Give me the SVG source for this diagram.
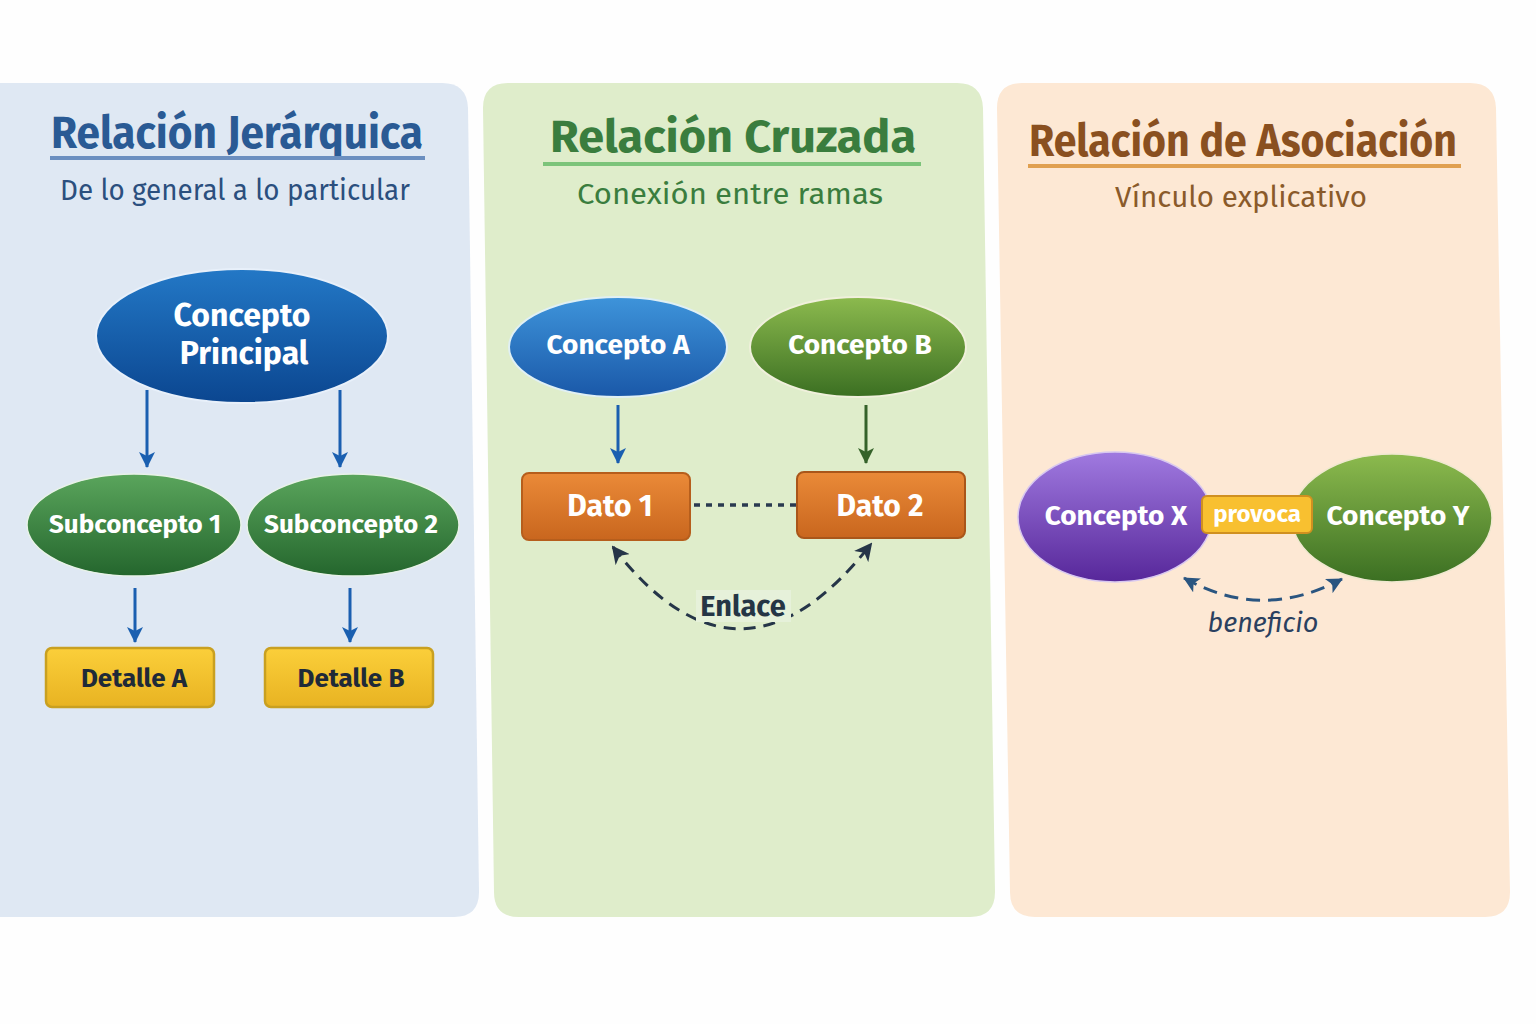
<svg xmlns="http://www.w3.org/2000/svg" width="1536" height="1024" viewBox="0 0 1536 1024">
<defs>
<linearGradient id="gBlue" x1="0" y1="0" x2="0" y2="1"><stop offset="0" stop-color="#2378c6"/><stop offset="1" stop-color="#0b4690"/></linearGradient>
<linearGradient id="gBlue2" x1="0" y1="0" x2="0" y2="1"><stop offset="0" stop-color="#3e94da"/><stop offset="1" stop-color="#1a58a8"/></linearGradient>
<linearGradient id="gGreen" x1="0" y1="0" x2="0" y2="1"><stop offset="0" stop-color="#5aa55c"/><stop offset="1" stop-color="#24662d"/></linearGradient>
<linearGradient id="gOlive" x1="0" y1="0" x2="0" y2="1"><stop offset="0" stop-color="#8cba4e"/><stop offset="1" stop-color="#3b6f22"/></linearGradient>
<linearGradient id="gPurple" x1="0" y1="0" x2="0" y2="1"><stop offset="0" stop-color="#a07ae0"/><stop offset="1" stop-color="#57279a"/></linearGradient>
<linearGradient id="gYellow" x1="0" y1="0" x2="0" y2="1"><stop offset="0" stop-color="#fbcf3a"/><stop offset="1" stop-color="#e8b322"/></linearGradient>
<linearGradient id="gOrange" x1="0" y1="0" x2="0" y2="1"><stop offset="0" stop-color="#ea8a38"/><stop offset="1" stop-color="#c9661e"/></linearGradient>
<marker id="aBlue" viewBox="0 0 16 16" refX="15" refY="8" markerWidth="16" markerHeight="16" orient="auto-start-reverse" markerUnits="userSpaceOnUse"><path d="M0 0 L16 8 L0 16 L4 8 Z" fill="#1a5fb0"/></marker>
<marker id="aGreen" viewBox="0 0 16 16" refX="15" refY="8" markerWidth="16" markerHeight="16" orient="auto-start-reverse" markerUnits="userSpaceOnUse"><path d="M0 0 L16 8 L0 16 L4 8 Z" fill="#35622a"/></marker>
<marker id="aDark" viewBox="0 0 18 18" refX="16" refY="9" markerWidth="18" markerHeight="18" orient="auto-start-reverse" markerUnits="userSpaceOnUse"><path d="M0 0 L18 9 L0 18 L5 9 Z" fill="#253548"/></marker>
<marker id="aNavy" viewBox="0 0 16 16" refX="15" refY="8" markerWidth="16" markerHeight="16" orient="auto-start-reverse" markerUnits="userSpaceOnUse"><path d="M0 0 L16 8 L0 16 L4 8 Z" fill="#2a5580"/></marker>
</defs>
<style>
text{font-family:"Fira Sans","Lato","Noto Sans",sans-serif;text-anchor:middle}
.title{font-size:46px;font-weight:700}
.sub{font-size:30px}
.nw{fill:#fff;font-weight:700}
.nd{fill:#1f2a38;font-weight:700}
.arr{fill:none;stroke-width:3}
</style>
<rect width="1536" height="1024" fill="#fefefe"/>
<g id="panels">
<path d="M-20 83 L442 83 Q467 83 468 108 L479 892 Q479 917 454 917 L-20 917 Z" fill="#dfe8f3"/>
<path d="M508 83 L957 83 Q982 83 983 108 L995 892 Q995 917 970 917 L519 917 Q494 917 494 892 L483 108 Q483 83 508 83 Z" fill="#dfedcb"/>
<path d="M1022 83 L1470 83 Q1495 83 1496 108 L1510 892 Q1510 917 1485 917 L1035 917 Q1010 917 1010 892 L997 108 Q997 83 1022 83 Z" fill="#fde8d4"/>
</g>
<g id="headers">
<text class="title" x="237" y="148" fill="#2a5a94" textLength="372" lengthAdjust="spacingAndGlyphs">Relación Jerárquica</text>
<rect x="50" y="156" width="375" height="4" fill="#6b8fc0"/>
<text class="sub" x="235" y="200" fill="#2b4f7e" textLength="350" lengthAdjust="spacingAndGlyphs">De lo general a lo particular</text>
<text class="title" x="733" y="152" fill="#3a7d3e" textLength="366" lengthAdjust="spacingAndGlyphs">Relación Cruzada</text>
<rect x="543" y="162" width="378" height="4" fill="#7cc47a"/>
<text class="sub" x="730" y="204" fill="#3a7d3e" textLength="306" lengthAdjust="spacingAndGlyphs">Conexión entre ramas</text>
<text class="title" x="1243" y="156" fill="#8a5020" textLength="428" lengthAdjust="spacingAndGlyphs">Relación de Asociación</text>
<rect x="1028" y="164" width="433" height="4" fill="#e0a050"/>
<text class="sub" x="1241" y="207" fill="#8a5a2a" textLength="252" lengthAdjust="spacingAndGlyphs">Vínculo explicativo</text>
</g>
<g id="connectors">
<line class="arr" x1="147" y1="390" x2="147" y2="467" stroke="#1a5fb0" marker-end="url(#aBlue)"/>
<line class="arr" x1="340" y1="390" x2="340" y2="467" stroke="#1a5fb0" marker-end="url(#aBlue)"/>
<line class="arr" x1="135" y1="588" x2="135" y2="642" stroke="#1a5fb0" marker-end="url(#aBlue)"/>
<line class="arr" x1="350" y1="588" x2="350" y2="642" stroke="#1a5fb0" marker-end="url(#aBlue)"/>
<line class="arr" x1="618" y1="405" x2="618" y2="463" stroke="#1a5fb0" marker-end="url(#aBlue)"/>
<line class="arr" x1="866" y1="405" x2="866" y2="463" stroke="#35622a" marker-end="url(#aGreen)"/>
<line x1="694" y1="505" x2="796" y2="505" stroke="#2a3a50" stroke-width="3.5" stroke-dasharray="6 6"/>
<path class="arr" d="M613 547 Q740 712 871 544" stroke="#253548" stroke-dasharray="12 8" marker-start="url(#aDark)" marker-end="url(#aDark)"/>
<path class="arr" d="M1184 578 Q1262 622 1342 579" stroke="#2a5580" stroke-dasharray="14 8" marker-start="url(#aNavy)" marker-end="url(#aNavy)"/>
</g>
<g id="n-principal">
<ellipse cx="242" cy="336" rx="146" ry="67" fill="url(#gBlue)" stroke="#e8f0fa" stroke-width="2"/>
<text class="nw" x="242" y="326" font-size="32">Concepto</text>
<text class="nw" x="244" y="364" font-size="32">Principal</text>
</g>
<g id="n-sub1">
<ellipse cx="134" cy="525" rx="107" ry="51" fill="url(#gGreen)" stroke="#e8f2e8" stroke-width="1.5"/>
<text class="nw" x="135" y="533" font-size="26" textLength="172" lengthAdjust="spacingAndGlyphs">Subconcepto 1</text>
</g>
<g id="n-sub2">
<ellipse cx="353" cy="525" rx="106" ry="51" fill="url(#gGreen)" stroke="#e8f2e8" stroke-width="1.5"/>
<text class="nw" x="351" y="533" font-size="26" textLength="174" lengthAdjust="spacingAndGlyphs">Subconcepto 2</text>
</g>
<g id="n-detA">
<rect x="46" y="648" width="168" height="59" rx="6" fill="url(#gYellow)" stroke="#c9a020" stroke-width="2.5"/>
<text class="nd" x="134" y="687" font-size="26">Detalle A</text>
</g>
<g id="n-detB">
<rect x="265" y="648" width="168" height="59" rx="6" fill="url(#gYellow)" stroke="#c9a020" stroke-width="2.5"/>
<text class="nd" x="351" y="687" font-size="26">Detalle B</text>
</g>
<g id="n-conA">
<ellipse cx="618" cy="347" rx="109" ry="50" fill="url(#gBlue2)" stroke="#e0f0f4" stroke-width="2"/>
<text class="nw" x="618" y="354" font-size="28">Concepto A</text>
</g>
<g id="n-conB">
<ellipse cx="858" cy="347" rx="108" ry="50" fill="url(#gOlive)" stroke="#f0f0dc" stroke-width="2"/>
<text class="nw" x="860" y="354" font-size="28">Concepto B</text>
</g>
<g id="n-dato1">
<rect x="522" y="473" width="168" height="67" rx="7" fill="url(#gOrange)" stroke="#b65e1c" stroke-width="2"/>
<text class="nw" x="610" y="516" font-size="30">Dato 1</text>
</g>
<g id="n-dato2">
<rect x="797" y="472" width="168" height="66" rx="7" fill="url(#gOrange)" stroke="#a9561a" stroke-width="2"/>
<text class="nw" x="880" y="516" font-size="30">Dato 2</text>
</g>
<g id="l-enlace">
<rect x="696" y="590" width="95" height="32" fill="#e6f1da"/>
<text x="743" y="616" font-size="29" font-weight="700" fill="#253545">Enlace</text>
</g>
<g id="n-conX">
<ellipse cx="1115" cy="517" rx="97" ry="65" fill="url(#gPurple)" stroke="#d8c8f0" stroke-width="1.5"/>
<text class="nw" x="1116" y="525" font-size="28">Concepto X</text>
</g>
<g id="n-conY">
<ellipse cx="1392" cy="518" rx="100" ry="64" fill="url(#gOlive)" stroke="#f0e8d0" stroke-width="1.5"/>
<text class="nw" x="1398" y="525" font-size="28">Concepto Y</text>
</g>
<g id="l-provoca">
<rect x="1202" y="496" width="110" height="37" rx="5" fill="#f8c030" stroke="#d09020" stroke-width="2"/>
<text class="nw" x="1257" y="522" font-size="24">provoca</text>
</g>
<g id="l-beneficio">
<text x="1263" y="632" font-size="27" font-style="italic" fill="#2a4060">beneficio</text>
</g>
</svg>
